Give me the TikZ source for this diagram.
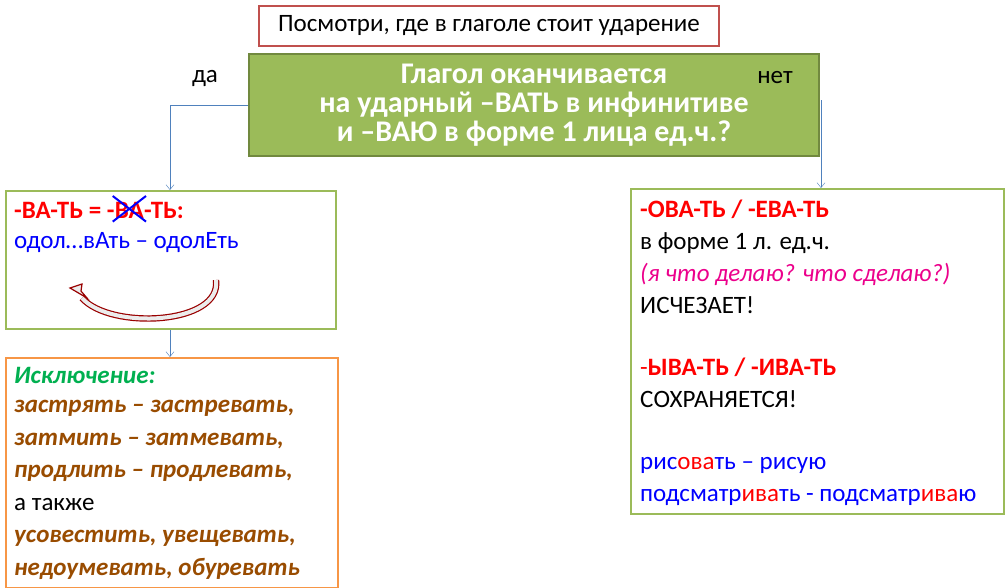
\documentclass[tikz,border=0pt]{standalone}
\usepackage{fontspec}
\setmainfont{Carlito}
\usetikzlibrary{positioning,arrows.meta}
\definecolor{boxgreen}{RGB}{155,187,89}
\definecolor{darkgreen}{RGB}{113,137,63}
\definecolor{titlered}{RGB}{192,80,77}
\definecolor{exorange}{RGB}{247,150,70}
\definecolor{exbrown}{RGB}{153,76,0}
\definecolor{exgreen}{RGB}{0,176,80}
\definecolor{linkblue}{RGB}{79,129,189}
\definecolor{txtblue}{RGB}{0,0,255}
\begin{document}
\begin{tikzpicture}[
    x=1pt, y=-1pt,
    >=Latex,
    frame/.style={draw, line width=2pt, fill=white, inner sep=0pt, anchor=north west},
    txt/.style={anchor=north west, inner sep=0pt, align=left, font=\fontsize{25}{32}\selectfont},
    link/.style={draw=linkblue, ->, >={Straight Barb[length=5pt,width=8pt]}}
]
    \useasboundingbox (0,0) rectangle (1008,587);
    % Rahmen
    \node[frame, draw=titlered, minimum width=460pt, minimum height=40pt] (title) at (258,5)
        {\fontsize{25}{28}\selectfont Посмотри, где в глаголе стоит ударение};
    \node[frame, draw=darkgreen, fill=boxgreen, minimum width=570pt, minimum height=102pt,
        align=center, text=white, font=\bfseries\fontsize{30}{29}\selectfont] (verb) at (248,53)
        {Глагол оканчивается\\на ударный –ВАТЬ в инфинитиве\\и –ВАЮ в форме 1 лица ед.ч.?};
    \node[frame, draw=boxgreen, minimum width=330pt, minimum height=138pt] (left) at (5,190) {};
    \node[frame, draw=exorange, minimum width=332pt, minimum height=230pt] (excl) at (5,357) {};
    \node[frame, draw=boxgreen, minimum width=373pt, minimum height=325pt] (right) at (630,188) {};

    % Verbindungen
    \coordinate (lturn) at (170,105);
    \coordinate (rturn) at (821,100);
    \draw[draw=linkblue] (verb.west |- lturn) -- (lturn);
    \draw[link] (lturn) -- (lturn |- left.north);
    \draw[link] (rturn) -- (rturn |- right.north);
    \draw[link] (left.south -| lturn) -- (excl.north -| lturn);
    \node[font=\fontsize{25}{28}\selectfont] (yes) at (205,78) {да};
    \node[font=\fontsize{25}{28}\selectfont] (no) at (775,78) {нет};

    % linker Kasten
    \node[txt, text=red, font=\bfseries\fontsize{25}{32}\selectfont] (rulea) at (14,202) {-ВА-ТЬ = -};
    \node[txt, text=red, font=\bfseries\fontsize{25}{32}\selectfont, right=0pt of rulea] (ruleb) {ВА};
    \node[txt, text=red, font=\bfseries\fontsize{25}{32}\selectfont, right=0pt of ruleb] (rulec) {-ТЬ:};
    \draw[txtblue, line width=2pt] ([xshift=-2pt,yshift=6pt]ruleb.north west) -- ([xshift=2pt,yshift=-3pt]ruleb.south east)
        ([xshift=2pt,yshift=6pt]ruleb.north east) -- ([xshift=-2pt,yshift=-3pt]ruleb.south west);
    \node[txt, text=txtblue] (odol) at (14,232) {одол…вАть – одолЕть};
    \draw[draw=red!60!black, line width=1.2pt, double=gray!15, double distance=4pt]
        (216,280) .. controls (222,325) and (110,330) .. (82,298);
    \draw[draw=red!60!black, line width=1.2pt, fill=gray!15] (70,288) -- (82,284) -- (81,291) -- (87,298) -- cycle;

    % Ausnahmen
    \node[txt, text=exgreen, font=\bfseries\itshape\fontsize{25}{32}\selectfont] (exhead) at (14,367) {Исключение:};
    \node[txt, font=\bfseries\itshape\fontsize{25}{32.5}\selectfont, text=exbrown] (exlist) at (14,400)
        {застрять – застревать,\\затмить – затмевать,\\продлить – продлевать,\\{\normalfont\color{black}а также}\\усовестить, увещевать,\\недоумевать, обуревать};

    % rechter Kasten
    \node[txt] (rtext) at (640,200)
        {\textcolor{red}{\bfseries -ОВА-ТЬ / -ЕВА-ТЬ}\\
         в форме 1 л. ед.ч.\\
         \textcolor{magenta}{\itshape (я что делаю? что сделаю?)}\\
         ИСЧЕЗАЕТ!\\[30pt]
         \textcolor{red}{-\bfseries ЫВА-ТЬ / -ИВА-ТЬ}\\
         СОХРАНЯЕТСЯ!\\[30pt]
         \textcolor{txtblue}{рис\textcolor{red}{ова}ть – рисую}\\
         \textcolor{txtblue}{подсматр\textcolor{red}{ива}ть - подсматр\textcolor{red}{ива}ю}};
\end{tikzpicture}
\end{document}
